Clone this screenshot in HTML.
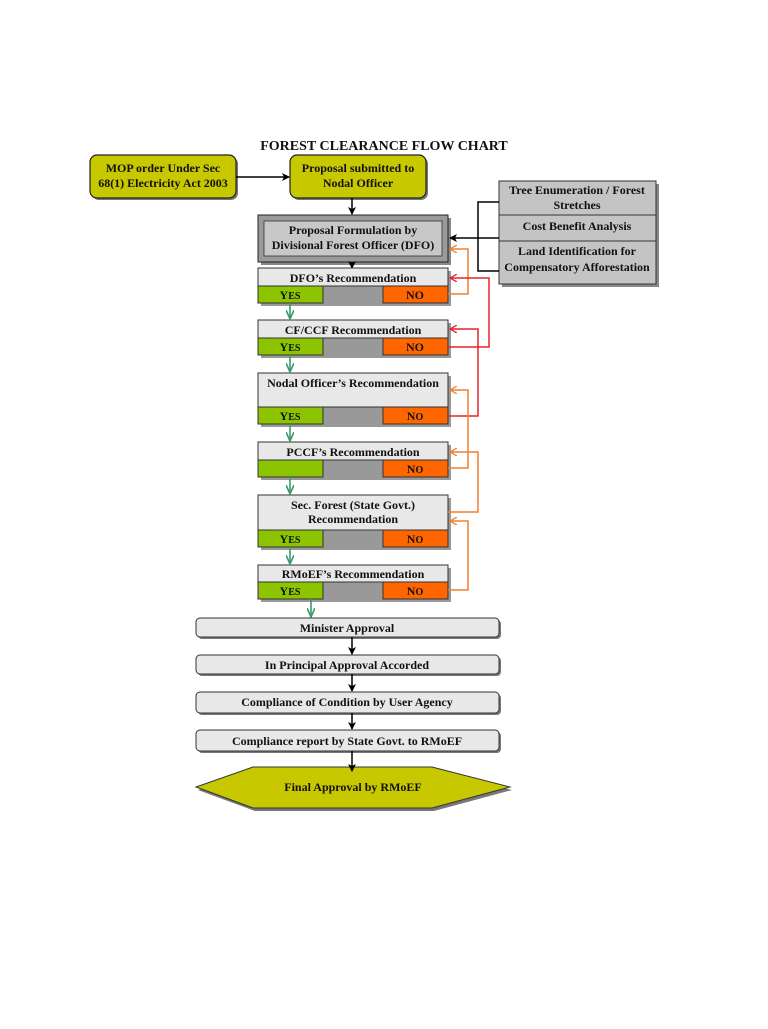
<!DOCTYPE html>
<html><head><style>
body{margin:0;background:#fff}
svg text{font-family:"Liberation Serif",serif;font-weight:bold;fill:#111}
</style></head><body>
<svg width="768" height="1024" viewBox="0 0 768 1024" xmlns="http://www.w3.org/2000/svg">
<defs>
<marker id="ak" markerWidth="8" markerHeight="8" refX="7" refY="4" orient="auto" markerUnits="userSpaceOnUse"><path d="M0,0 L8,4 L0,8 L2,4 z" fill="#000"/></marker>
<marker id="ag" markerWidth="10" markerHeight="8" refX="9" refY="4" orient="auto" markerUnits="userSpaceOnUse"><path d="M0,0 L9,4 L0,8" fill="none" stroke="#3a9a6a" stroke-width="1.6"/></marker>
<marker id="ar" markerWidth="8" markerHeight="8" refX="7" refY="4" orient="auto" markerUnits="userSpaceOnUse"><path d="M0,0 L7,4 L0,8" fill="none" stroke="#e8202a" stroke-width="1.3"/></marker>
<marker id="ao" markerWidth="8" markerHeight="8" refX="7" refY="4" orient="auto" markerUnits="userSpaceOnUse"><path d="M0,0 L7,4 L0,8" fill="none" stroke="#f08030" stroke-width="1.3"/></marker>
</defs>
<text x="384" y="150" text-anchor="middle" font-size="14">FOREST CLEARANCE FLOW CHART</text>
<!-- top yellow -->
<rect x="92" y="157" width="146" height="43" rx="7" fill="#777"/>
<rect x="90" y="155" width="146" height="43" rx="7" fill="#c8c800" stroke="#222" stroke-width="1.2"/>
<text x="163" y="172" text-anchor="middle" font-size="12">MOP order Under Sec</text>
<text x="163" y="187" text-anchor="middle" font-size="12">68(1) Electricity Act 2003</text>
<rect x="292" y="157" width="136" height="43" rx="7" fill="#777"/>
<rect x="290" y="155" width="136" height="43" rx="7" fill="#c8c800" stroke="#222" stroke-width="1.2"/>
<text x="358" y="172" text-anchor="middle" font-size="12">Proposal submitted to</text>
<text x="358" y="187" text-anchor="middle" font-size="12">Nodal Officer</text>
<line x1="236" y1="177" x2="289" y2="177" stroke="#000" stroke-width="1.5" marker-end="url(#ak)"/>
<line x1="352" y1="198" x2="352" y2="214" stroke="#000" stroke-width="1.5" marker-end="url(#ak)"/>
<!-- DFO box -->
<rect x="261" y="218" width="190" height="47" fill="#888"/>
<rect x="258" y="215" width="190" height="47" fill="#9a9a9a" stroke="#222"/>
<rect x="264" y="221" width="178" height="35" fill="#c8c8c8" stroke="#333" stroke-width="0.8"/>
<text x="353" y="234" text-anchor="middle" font-size="12">Proposal Formulation by</text>
<text x="353" y="249" text-anchor="middle" font-size="12">Divisional Forest Officer (DFO)</text>
<line x1="352" y1="262" x2="352" y2="268" stroke="#000" stroke-width="1.5" marker-end="url(#ak)"/>
<!-- right panel -->
<rect x="502" y="184" width="157" height="103" fill="#888"/>
<rect x="499" y="181" width="157" height="103" fill="#c4c4c4" stroke="#333"/>
<line x1="499" y1="215" x2="656" y2="215" stroke="#333"/>
<line x1="499" y1="241" x2="656" y2="241" stroke="#333"/>
<text x="577" y="194" text-anchor="middle" font-size="12">Tree Enumeration / Forest</text>
<text x="577" y="209" text-anchor="middle" font-size="12">Stretches</text>
<text x="577" y="230" text-anchor="middle" font-size="12">Cost Benefit Analysis</text>
<text x="577" y="255" text-anchor="middle" font-size="12">Land Identification for</text>
<text x="577" y="271" text-anchor="middle" font-size="12">Compensatory Afforestation</text>
<path d="M499,202 H478 V271 H499" fill="none" stroke="#000" stroke-width="1.5"/>
<line x1="499" y1="238" x2="450" y2="238" stroke="#000" stroke-width="1.5" marker-end="url(#ak)"/>
<!-- recommendation blocks -->
<g font-size="12">
<!-- DFO rec -->
<rect x="261" y="271" width="190" height="35" fill="#999"/>
<rect x="258" y="268" width="190" height="18" fill="#e8e8e8" stroke="#333"/>
<text x="353" y="282" text-anchor="middle">DFO’s Recommendation</text>
<rect x="258" y="286" width="65" height="17" fill="#8cc400" stroke="#333"/>
<rect x="383" y="286" width="65" height="17" fill="#ff6600" stroke="#333"/>
<text x="290" y="299" text-anchor="middle">Y<tspan font-size="10">ES</tspan></text>
<text x="415" y="299" text-anchor="middle">NO</text>
<!-- CF -->
<rect x="261" y="323" width="190" height="35" fill="#999"/>
<rect x="258" y="320" width="190" height="18" fill="#e8e8e8" stroke="#333"/>
<text x="353" y="334" text-anchor="middle">CF/CCF Recommendation</text>
<rect x="258" y="338" width="65" height="17" fill="#8cc400" stroke="#333"/>
<rect x="383" y="338" width="65" height="17" fill="#ff6600" stroke="#333"/>
<text x="290" y="351" text-anchor="middle">Y<tspan font-size="10">ES</tspan></text>
<text x="415" y="351" text-anchor="middle">NO</text>
<!-- Nodal -->
<rect x="261" y="376" width="190" height="51" fill="#999"/>
<rect x="258" y="373" width="190" height="34" fill="#e8e8e8" stroke="#333"/>
<text x="353" y="387" text-anchor="middle">Nodal Officer’s Recommendation</text>
<rect x="258" y="407" width="65" height="17" fill="#8cc400" stroke="#333"/>
<rect x="383" y="407" width="65" height="17" fill="#ff6600" stroke="#333"/>
<text x="290" y="420" text-anchor="middle">Y<tspan font-size="10">ES</tspan></text>
<text x="415" y="420" text-anchor="middle">N<tspan font-size="10">O</tspan></text>
<!-- PCCF -->
<rect x="261" y="445" width="190" height="35" fill="#999"/>
<rect x="258" y="442" width="190" height="18" fill="#e8e8e8" stroke="#333"/>
<text x="353" y="456" text-anchor="middle">PCCF’s Recommendation</text>
<rect x="258" y="460" width="65" height="17" fill="#8cc400" stroke="#333"/>
<rect x="383" y="460" width="65" height="17" fill="#ff6600" stroke="#333"/>
<text x="415" y="473" text-anchor="middle">N<tspan font-size="10">O</tspan></text>
<!-- Sec -->
<rect x="261" y="498" width="190" height="52" fill="#999"/>
<rect x="258" y="495" width="190" height="35" fill="#e8e8e8" stroke="#333"/>
<text x="353" y="509" text-anchor="middle">Sec. Forest (State Govt.)</text>
<text x="353" y="523" text-anchor="middle">Recommendation</text>
<rect x="258" y="530" width="65" height="17" fill="#8cc400" stroke="#333"/>
<rect x="383" y="530" width="65" height="17" fill="#ff6600" stroke="#333"/>
<text x="290" y="543" text-anchor="middle">Y<tspan font-size="10">ES</tspan></text>
<text x="415" y="543" text-anchor="middle">N<tspan font-size="10">O</tspan></text>
<!-- RMoEF -->
<rect x="261" y="568" width="190" height="34" fill="#999"/>
<rect x="258" y="565" width="190" height="17" fill="#e8e8e8" stroke="#333"/>
<text x="353" y="578" text-anchor="middle">RMoEF’s  Recommendation</text>
<rect x="258" y="582" width="65" height="17" fill="#8cc400" stroke="#333"/>
<rect x="383" y="582" width="65" height="17" fill="#ff6600" stroke="#333"/>
<text x="290" y="595" text-anchor="middle">Y<tspan font-size="10">ES</tspan></text>
<text x="415" y="595" text-anchor="middle">N<tspan font-size="10">O</tspan></text>
</g>
<!-- green arrows -->
<g stroke="#3a9a6a" stroke-width="1.6" marker-end="url(#ag)">
<line x1="290" y1="303" x2="290" y2="319"/>
<line x1="290" y1="355" x2="290" y2="372"/>
<line x1="290" y1="424" x2="290" y2="441"/>
<line x1="290" y1="477" x2="290" y2="494"/>
<line x1="290" y1="547" x2="290" y2="564"/>
<line x1="311" y1="599" x2="311" y2="617"/>
</g>
<!-- feedback lines -->
<g fill="none" stroke-width="1.5">
<path d="M448,294 H468 V249 H450" stroke="#f08030" marker-end="url(#ao)"/>
<path d="M448,347 H489 V278 H450" stroke="#e8202a" marker-end="url(#ar)"/>
<path d="M448,416 H478 V329 H450" stroke="#e8202a" marker-end="url(#ar)"/>
<path d="M448,468 H468 V390 H450" stroke="#f08030" marker-end="url(#ao)"/>
<path d="M448,512 H478 V452 H450" stroke="#f08030" marker-end="url(#ao)"/>
<path d="M448,590 H468 V521 H450" stroke="#f08030" marker-end="url(#ao)"/>
</g>
<!-- bottom boxes -->
<g font-size="12">
<rect x="198" y="620" width="303" height="19" rx="4" fill="#777"/>
<rect x="196" y="618" width="303" height="19" rx="4" fill="#e8e8e8" stroke="#333"/>
<text x="347" y="632" text-anchor="middle">Minister Approval</text>
<rect x="198" y="657" width="303" height="19" rx="4" fill="#777"/>
<rect x="196" y="655" width="303" height="19" rx="4" fill="#e8e8e8" stroke="#333"/>
<text x="347" y="669" text-anchor="middle">In Principal Approval Accorded</text>
<rect x="198" y="694" width="303" height="21" rx="4" fill="#777"/>
<rect x="196" y="692" width="303" height="21" rx="4" fill="#e8e8e8" stroke="#333"/>
<text x="347" y="706" text-anchor="middle">Compliance of Condition by User Agency</text>
<rect x="198" y="732" width="303" height="21" rx="4" fill="#777"/>
<rect x="196" y="730" width="303" height="21" rx="4" fill="#e8e8e8" stroke="#333"/>
<text x="347" y="745" text-anchor="middle">Compliance report by State Govt. to RMoEF</text>
<polygon points="255,770 434,770 512,790 434,811 255,811 198,790" fill="#777"/>
<polygon points="253,767 432,767 510,787 432,808 253,808 196,787" fill="#c8c800" stroke="#333"/>
<text x="353" y="791" text-anchor="middle">Final Approval by RMoEF</text>
</g>
<g stroke="#000" stroke-width="1.5" marker-end="url(#ak)">
<line x1="352" y1="637" x2="352" y2="654"/>
<line x1="352" y1="674" x2="352" y2="691"/>
<line x1="352" y1="713" x2="352" y2="729"/>
<line x1="352" y1="751" x2="352" y2="771"/>
</g>
</svg>
</body></html>
